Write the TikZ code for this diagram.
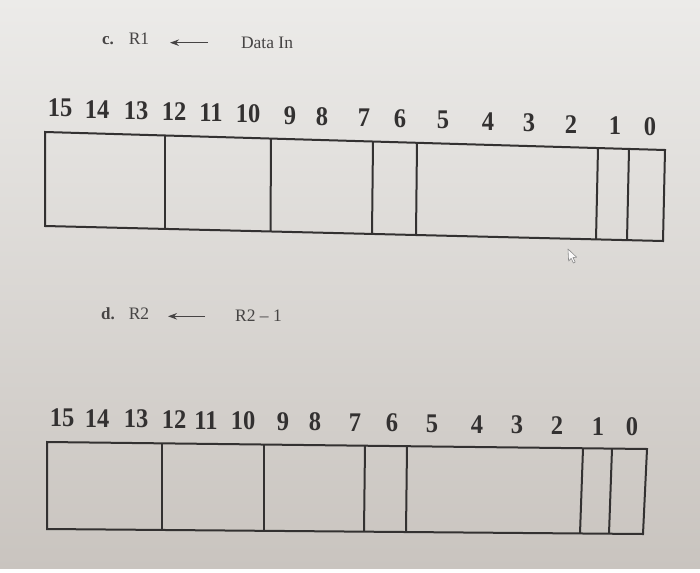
\documentclass[tikz,border=0pt]{standalone}
\usepackage{fontspec}
\setmainfont{Liberation Serif}
\usetikzlibrary{arrows.meta}
\definecolor{bgtop}{HTML}{ECEBE9}
\definecolor{bgmid}{HTML}{E3E0DC}
\definecolor{bgbot}{HTML}{C9C4BF}
\definecolor{ink}{HTML}{333131}
\definecolor{txt}{HTML}{464444}
\tikzset{
  regline/.style={draw=ink, line width=2pt, line join=miter},
  bitnum/.style={inner sep=0pt, anchor=center, text=ink, yscale=1.1, font=\fontsize{24.5}{28}\selectfont\bfseries},
  stmt/.style={inner sep=0pt, anchor=base, text=txt, font=\fontsize{17.5}{20}\selectfont},
  stmtb/.style={inner sep=0pt, anchor=base, text=txt, font=\fontsize{17}{20}\selectfont\bfseries},
  assign/.style={draw=txt, line width=1.3pt, -{Stealth[length=9pt,width=6.5pt]}}
}
\begin{document}
\begin{tikzpicture}[x=1pt,y=-1pt]
\useasboundingbox (0,0) rectangle (700,572);
\shade[top color=bgtop, middle color=bgmid, bottom color=bgbot] (0,0) rectangle (700,569);
\fill[white!94!bgtop] (0,569) rectangle (700,572);

% ---- statement c ----
\node[stmtb] (cl) at (108,45) {c.};
\node[stmt] (r1) at (139,45) {R1};
\node[stmt] (din) at (267,48.5) {Data In};
\coordinate (c1s) at (208,42.7);
\coordinate (c1e) at (170,42.7);
\draw[assign] (c1s) -- (c1e);

% ---- top bit numbers ----
\foreach \n/\x/\y in {15/60/108,14/97/109.2,13/136/110.4,12/174/111.7,11/211/112.9,10/248/114,9/290/115.4,8/322/116.4,7/364/117.8,6/400/118.9,5/443/120.3,4/488/121.8,3/529/123.1,2/571/124.5,1/615/125.9,0/650/127}
  \node[bitnum] (ta\n) at (\x,\y) {\n};

% ---- top register ----
\draw[regline] (45,132) -- (665,150) -- (663,241) -- (45,226) -- cycle;
\foreach \x/\yt/\yb/\xb in {165/135.5/228.9/165,271/138.6/231.5/270.5,373/141.5/233.9/372,417/142.8/235.0/416,598/148.0/239.4/596,629/148.9/240.1/627}
  \draw[regline] (\x,\yt) -- (\xb,\yb);

% ---- cursor ----
\draw[fill=white!85!bgmid, draw=black!45, line width=0.6pt, line join=round]
  (568,249) -- (568.6,261) -- (571.2,258.4) -- (573.4,263) -- (575.2,262.1) -- (573,257.6) -- (576.6,257.2) -- cycle;

% ---- statement d ----
\node[stmtb] (dl) at (108,319) {d.};
\node[stmt] (r2) at (139,319) {R2};
\node[stmt] (r2m) at (258.5,321.5) {R2 -- 1};
\coordinate (d1s) at (205,316.3);
\coordinate (d1e) at (168,316.3);
\draw[assign] (d1s) -- (d1e);

% ---- bottom bit numbers ----
\foreach \n/\x/\y in {15/62/418,14/97/418.6,13/136/419.2,12/174/419.8,11/206/420.3,10/243/420.9,9/283/421.5,8/315/422,7/355/422.6,6/392/423.2,5/432/423.8,4/477/424.6,3/517/425.2,2/557/425.8,1/598/426.5,0/632/427}
  \node[bitnum] (ba\n) at (\x,\y) {\n};

% ---- bottom register ----
\draw[regline] (47,442) -- (647,449) -- (643,534) -- (47,529) -- cycle;
\foreach \x/\yt/\yb/\xb in {162/443.3/530/162,264/444.5/530.8/264,365/445.7/531.6/364,407/446.2/532/406,583/448.3/533.5/580,612/448.6/533.7/609}
  \draw[regline] (\x,\yt) -- (\xb,\yb);
\end{tikzpicture}
\end{document}
